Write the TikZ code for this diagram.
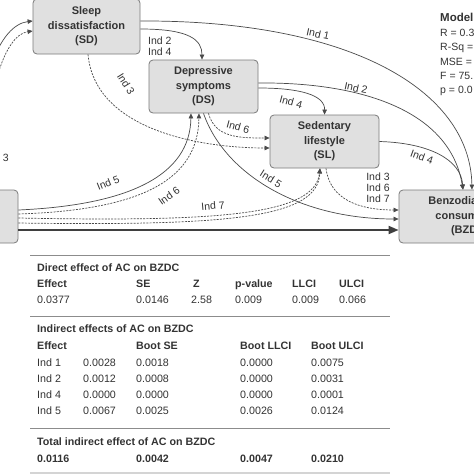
\documentclass[tikz,border=0pt]{standalone}
\usepackage{fontspec}
\setmainfont{Liberation Sans}
\usetikzlibrary{arrows.meta,calc}
\definecolor{txt}{HTML}{333333}
\definecolor{boxfill}{HTML}{E0E0E0}
\definecolor{boxline}{HTML}{7A7A7A}
\definecolor{ln}{HTML}{4A4A4A}
\definecolor{rulec}{HTML}{8C8C8C}
\definecolor{rulelight}{HTML}{D4D4D4}
\begin{document}
\begin{tikzpicture}[x=1pt,y=-1pt,
 var/.style={draw=boxline, fill=boxfill, rounded corners=4pt, line width=0.8pt, inner sep=0pt, align=center, font=\fontsize{11}{14.5}\selectfont\bfseries, text=txt},
 conn/.style={draw=ln, line width=0.7pt, -{Triangle[length=5pt,width=4.5pt]}},
 dconn/.style={conn, dash pattern=on 2pt off 1.2pt},
 lab/.style={font=\fontsize{10.5}{11}\selectfont, text=txt, inner sep=0pt},
 tb/.style={font=\fontsize{10.7}{13}\selectfont, text=txt, anchor=base west, inner sep=0pt},
 tbb/.style={font=\fontsize{10.7}{13}\selectfont\bfseries, text=txt, anchor=base west, inner sep=0pt},
 mdl/.style={font=\fontsize{10.5}{12}\selectfont, text=txt, anchor=base west, inner sep=0pt},
 rl/.style={draw=rulec, line width=0.9pt},
]
\useasboundingbox (0,0) rectangle (474,474);

% variable boxes
\node[var, minimum width=107pt, minimum height=55pt] (SD) at (86.5,26.5) {Sleep\\dissatisfaction\\(SD)};
\node[var, minimum width=109pt, minimum height=53pt] (DS) at (203.5,86.5) {Depressive\\symptoms\\(DS)};
\node[var, minimum width=109pt, minimum height=53pt] (SL) at (324.5,141.5) {Sedentary\\lifestyle\\(SL)};
\node[var, minimum width=142pt, minimum height=53pt] (BZ) at (470,216.5) {Benzodiazepine\\consumption\\(BZDC)};
\node[var, minimum width=116pt, minimum height=53pt] (AC) at (-40,216.5) {};

% AC -> SD
\draw[conn] ([xshift=15pt]AC.north) .. controls (-25,80) and (0,25) .. ([yshift=5.5pt]SD.west);
\draw[dconn] ([xshift=25pt]AC.north) .. controls (-15,90) and (5,35) .. ([yshift=-4.5pt]SD.west);
\node[lab, anchor=east] (l3a) at (9,158) {Ind 3};

% SD -> BZ (Ind 1)
\draw[conn] ([yshift=5.5pt]SD.east) .. controls (350,20) and (470,90) .. ([xshift=2pt]BZ.north);
\node[lab, rotate=-12] (l1) at (318,34) {Ind 1};

% SD -> DS
\draw[conn] ([yshift=-2.5pt]SD.east) .. controls (190,29) and (202,40) .. ([xshift=-1.5pt]DS.north);
\node[lab, anchor=west] (l2a) at (148,41) {Ind 2};
\node[lab, anchor=west] (l4a) at (148,51.5) {Ind 4};

% DS -> BZ (Ind 2)
\draw[conn] ([yshift=3.5pt]DS.east) .. controls (360,82) and (450,110) .. ([xshift=-7pt]BZ.north);
\node[lab, rotate=-12] (l2b) at (356,88) {Ind 2};

% DS -> SL (Ind 4)
\draw[conn] ([yshift=-1.5pt]DS.east) .. controls (300,88) and (325,95) .. (SL.north);
\node[lab, rotate=-15] (l4b) at (291,102) {Ind 4};

% SL -> BZ (Ind 4)
\draw[conn] (SL.east) .. controls (430,143) and (461,160) .. ([xshift=-7pt]BZ.north);
\node[lab, rotate=-20] (l4c) at (422,157) {Ind 4};

% SD -> SL (Ind 3)
\draw[dconn] ([xshift=1.5pt]SD.south) .. controls (95,130) and (200,148) .. ([yshift=-6.5pt]SL.west);
\node[lab, rotate=-58] (l3b) at (126,84) {Ind 3};

% DS -> SL (Ind 6)
\draw[dconn] ([xshift=5pt]DS.south) .. controls (215,138) and (240,138) .. ([yshift=3.5pt]SL.west);
\node[lab, rotate=-15] (l6b) at (238,127) {Ind 6};

% DS -> BZ (Ind 5)
\draw[conn] (DS.south) .. controls (225,175) and (300,219) .. ([yshift=-2.5pt]BZ.west);
\node[lab, rotate=-32] (l5b) at (271,179) {Ind 5};

% AC -> DS (Ind 5, Ind 6)
\draw[conn] ([yshift=6.5pt]AC.east) .. controls (130,205) and (190,175) .. ([xshift=-12.5pt]DS.south);
\node[lab, rotate=22] (l5a) at (108,183) {Ind 5};
\draw[dconn] ([yshift=2.5pt]AC.east) .. controls (145,210) and (198,178) .. ([xshift=-4.5pt]DS.south);
\node[lab, rotate=35] (l6a) at (169,196) {Ind 6};

% AC -> SL (Ind 7)
\draw[dconn] ([yshift=-1.5pt]AC.east) .. controls (220,222) and (315,215) .. ([xshift=-4.5pt]SL.south);
\draw[dconn] ([yshift=-6.5pt]AC.east) .. controls (230,226) and (318,218) .. ([xshift=-4.5pt]SL.south);
\node[lab, rotate=5] (l7a) at (213,206) {Ind 7};

% SL -> BZ (Ind 3, 6, 7)
\draw[dconn] ([xshift=1.5pt]SL.south) .. controls (330,200) and (360,210) .. ([yshift=6.5pt]BZ.west);
\node[lab] (l3c) at (378,177) {Ind 3};
\node[lab] (l6c) at (378,188) {Ind 6};
\node[lab] (l7c) at (378,199) {Ind 7};

% direct effect
\draw[draw=ln!85!black, line width=1.8pt, -{Triangle[length=10pt,width=8pt]}] ([yshift=-13.5pt]AC.east) -- ([yshift=-13.5pt]BZ.west);

% model summary
\node[mdl, font=\fontsize{11.5}{12}\selectfont\bfseries] (m0) at (440,21) {Model};
\node[mdl] (m1) at (440,36) {R = 0.3};
\node[mdl] (m2) at (440,50.5) {R-Sq =};
\node[mdl] (m3) at (440,65) {MSE =};
\node[mdl] (m4) at (440,79) {F = 75.};
\node[mdl] (m5) at (440,93) {p = 0.0};

% table rules
\draw[rl] (30,255) -- (390,255);
\draw[rl] (30,316) -- (390,316);
\draw[rl] (30,428) -- (390,428);
\draw[draw=rulelight, line width=2.5pt] (30,472.8) -- (390,472.8);

% direct effect table
\node[tbb] (d0) at (37,271) {Direct effect of AC on BZDC};
\node[tbb] (dh1) at (37,287) {Effect};
\node[tbb] (dh2) at (136,287) {SE};
\node[tbb] (dh3) at (193,287) {Z};
\node[tbb] (dh4) at (235,287) {p-value};
\node[tbb] (dh5) at (292,287) {LLCI};
\node[tbb] (dh6) at (339,287) {ULCI};
\node[tb] (dv1) at (37,303) {0.0377};
\node[tb] (dv2) at (136,303) {0.0146};
\node[tb] (dv3) at (191,303) {2.58};
\node[tb] (dv4) at (235,303) {0.009};
\node[tb] (dv5) at (292,303) {0.009};
\node[tb] (dv6) at (339,303) {0.066};

% indirect effects table
\node[tbb] (i0) at (37,332) {Indirect effects of AC on BZDC};
\node[tbb] (ih1) at (37,349) {Effect};
\node[tbb] (ih2) at (136,349) {Boot SE};
\node[tbb] (ih3) at (240,349) {Boot LLCI};
\node[tbb] (ih4) at (311,349) {Boot ULCI};

\node[tb] (r1a) at (37,366) {Ind 1};
\node[tb] (r1b) at (83,366) {0.0028};
\node[tb] (r1c) at (136,366) {0.0018};
\node[tb] (r1d) at (240,366) {0.0000};
\node[tb] (r1e) at (311,366) {0.0075};

\node[tb] (r2a) at (37,382) {Ind 2};
\node[tb] (r2b) at (83,382) {0.0012};
\node[tb] (r2c) at (136,382) {0.0008};
\node[tb] (r2d) at (240,382) {0.0000};
\node[tb] (r2e) at (311,382) {0.0031};

\node[tb] (r3a) at (37,398) {Ind 4};
\node[tb] (r3b) at (83,398) {0.0000};
\node[tb] (r3c) at (136,398) {0.0000};
\node[tb] (r3d) at (240,398) {0.0000};
\node[tb] (r3e) at (311,398) {0.0001};

\node[tb] (r4a) at (37,414) {Ind 5};
\node[tb] (r4b) at (83,414) {0.0067};
\node[tb] (r4c) at (136,414) {0.0025};
\node[tb] (r4d) at (240,414) {0.0026};
\node[tb] (r4e) at (311,414) {0.0124};

% total indirect effect
\node[tbb] (t0) at (37,445) {Total indirect effect of AC on BZDC};
\node[tbb] (t1) at (37,462) {0.0116};
\node[tbb] (t2) at (136,462) {0.0042};
\node[tbb] (t3) at (240,462) {0.0047};
\node[tbb] (t4) at (311,462) {0.0210};
\end{tikzpicture}
\end{document}
